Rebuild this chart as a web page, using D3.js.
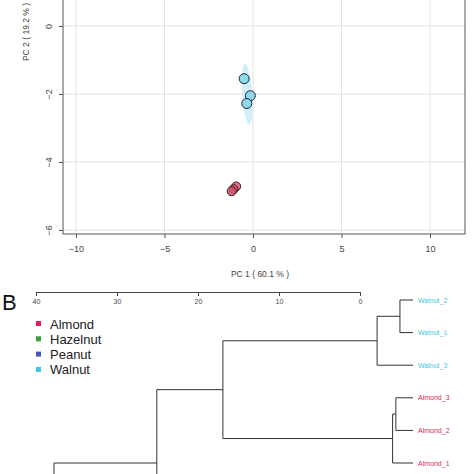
<!DOCTYPE html>
<html><head><meta charset="utf-8">
<script src="https://cdn.jsdelivr.net/npm/d3@7"></script>
<style>body{margin:0;background:#fff}svg{font-family:"Liberation Sans",Arial,sans-serif}</style>
</head><body><div id="chart"></div>
<script>
// PCA scores
const walnutPC1 = [-0.5, -0.15, -0.35], walnutPC2 = [-1.55, -2.05, -2.28];
const almondPC1 = [-0.95, -1.1, -1.2], almondPC2 = [-4.72, -4.8, -4.86];
const xTicks = [-10, -5, 0, 5, 10], yTicks = [0, -2, -4, -6];
const groups = ["Almond", "Hazelnut", "Peanut", "Walnut"];
const groupColors = ["#dc1f55", "#3a9e3a", "#4656b5", "#45c6e6"];
const distTicks = [40, 30, 20, 10, 0];
// dendrogram (height in distance units, leaf order top->bottom)
const tree = {h: 44, children: [
  {h: 31.4, children: [
    {h: 23.3, children: [
      {h: 4.4, children: [{h: 1.6, children: [{name: "Walnut_2"}, {name: "Walnut_1"}]}, {name: "Walnut_3"}]},
      {h: 2.5, children: [{h: 2.1, children: [{name: "Almond_3"}, {name: "Almond_2"}]}, {name: "Almond_1"}]}
    ]},
    {h: 6, children: [{h: 3, children: [{name: "Hazelnut_1"}, {name: "Hazelnut_2"}]}, {name: "Hazelnut_3"}]}
  ]},
  {h: 8, children: [{h: 3, children: [{name: "Peanut_1"}, {name: "Peanut_2"}]}, {name: "Peanut_3"}]}
]};

const svg = d3.select("#chart").append("svg").attr("width", 474).attr("height", 474);

// ---- panel A: PCA
const x = d3.scaleLinear().domain([-10, 10]).range([76, 430]);
const y = d3.scaleLinear().domain([0, -6]).range([26, 230]);
const L = 63, R = 465, T = -10, B = 234;
const grid = svg.append("g").attr("stroke", "#e2e2e2");
xTicks.forEach(t => grid.append("line").attr("x1", x(t)).attr("x2", x(t)).attr("y1", T).attr("y2", B));
yTicks.forEach(t => grid.append("line").attr("x1", L).attr("x2", R).attr("y1", y(t)).attr("y2", y(t)));

// walnut ellipse
svg.append("ellipse").attr("cx", x(-0.33)).attr("cy", y(-2.0)).attr("rx", 5).attr("ry", 31)
  .attr("transform", `rotate(-4,${x(-0.33)},${y(-2.0)})`).attr("fill", "#c5ecf7").attr("opacity", 0.8);

svg.append("rect").attr("x", L).attr("y", T).attr("width", R - L).attr("height", B - T)
  .attr("fill", "none").attr("stroke", "#555").attr("stroke-width", 1);

const pts = svg.append("g");
walnutPC1.forEach((v, i) => pts.append("circle").attr("cx", x(v)).attr("cy", y(walnutPC2[i])).attr("r", 5)
  .attr("fill", "#8ed8ec").attr("stroke", "#223").attr("stroke-width", 1));
almondPC1.forEach((v, i) => pts.append("circle").attr("cx", x(v)).attr("cy", y(almondPC2[i])).attr("r", 4.5)
  .attr("fill", "#d8506c").attr("fill-opacity", 0.8).attr("stroke", "#322").attr("stroke-width", 1));

svg.append("g").attr("transform", `translate(0,${B})`)
  .call(d3.axisBottom(x).tickValues(xTicks).tickSize(4).tickPadding(8).tickFormat(d3.format("d")))
  .call(g => { g.select(".domain").remove(); g.selectAll("line").attr("stroke", "#555");
    g.selectAll("text").attr("font-size", 9).attr("fill", "#444"); });
svg.append("g").attr("transform", `translate(${L},0)`)
  .call(d3.axisLeft(y).tickValues(yTicks).tickSize(4).tickPadding(8).tickFormat(d3.format("d")))
  .call(g => { g.select(".domain").remove(); g.selectAll("line").attr("stroke", "#555");
    g.selectAll("text").attr("font-size", 9).attr("fill", "#444")
      .attr("transform", "rotate(-90)").attr("text-anchor", "middle").attr("x", 0).attr("dy", 0)
      .attr("y", -11); });
svg.append("text").attr("x", 260).attr("y", 277).attr("text-anchor", "middle").attr("font-size", 8.5).attr("fill", "#444").text("PC 1 ( 60.1 % )");
svg.append("text").attr("transform", "translate(29,32) rotate(-90)").attr("text-anchor", "middle").attr("font-size", 8.5).attr("fill", "#444").text("PC 2 ( 19.2 % )");

// ---- panel B: dendrogram
svg.append("text").attr("x", 2).attr("y", 310).attr("font-size", 22).attr("fill", "#111").text("B");
const d = d3.scaleLinear().domain([40, 0]).range([36, 360]);
svg.append("g").attr("transform", "translate(0,292)")
  .call(d3.axisTop(d).tickValues(distTicks).tickSize(-4).tickPadding(-12))
  .call(g => { g.select(".domain").attr("stroke", "#444"); g.selectAll("line").attr("stroke", "#444");
    g.selectAll("text").attr("font-size", 7).attr("fill", "#444"); });

const hx = d3.scaleLinear().domain([0, 44]).range([413, 54]);
const leafY = d3.scaleLinear().domain([0, 1]).range([300, 332.6]);
const root = d3.hierarchy(tree);
let k = 0;
root.eachAfter(n => {
  if (!n.children) { n.py = leafY(k++); n.px = hx(0); }
  else { n.py = d3.mean(n.children, c => c.py); n.px = hx(n.data.h); }
});
const dg = svg.append("g").attr("stroke", "#333").attr("stroke-width", 1).attr("fill", "none");
root.each(n => {
  if (n.children) {
    dg.append("line").attr("x1", n.px).attr("x2", n.px)
      .attr("y1", d3.min(n.children, c => c.py)).attr("y2", d3.max(n.children, c => c.py));
    n.children.forEach(c => dg.append("line").attr("x1", n.px).attr("x2", c.px).attr("y1", c.py).attr("y2", c.py));
  }
});
dg.append("line").attr("x1", hx(44)).attr("x2", hx(44)).attr("y1", root.py).attr("y2", 480);
const col = name => groupColors[groups.indexOf(name.split("_")[0])];
// leaves below the bottom edge are cropped out of the figure
root.leaves().filter(n => n.py < 470).forEach(n => svg.append("text").attr("x", n.px + 5).attr("y", n.py + 2.5)
  .attr("font-size", 7).attr("fill", col(n.data.name)).text(n.data.name));

const lg = svg.append("g");
groups.forEach((g, i) => {
  lg.append("rect").attr("x", 36).attr("y", 321 + i * 15.3).attr("width", 5).attr("height", 5).attr("fill", groupColors[i]);
  lg.append("text").attr("x", 50).attr("y", 328.5 + i * 15.3).attr("font-size", 13).attr("fill", "#222").text(g);
});
</script></body></html>
